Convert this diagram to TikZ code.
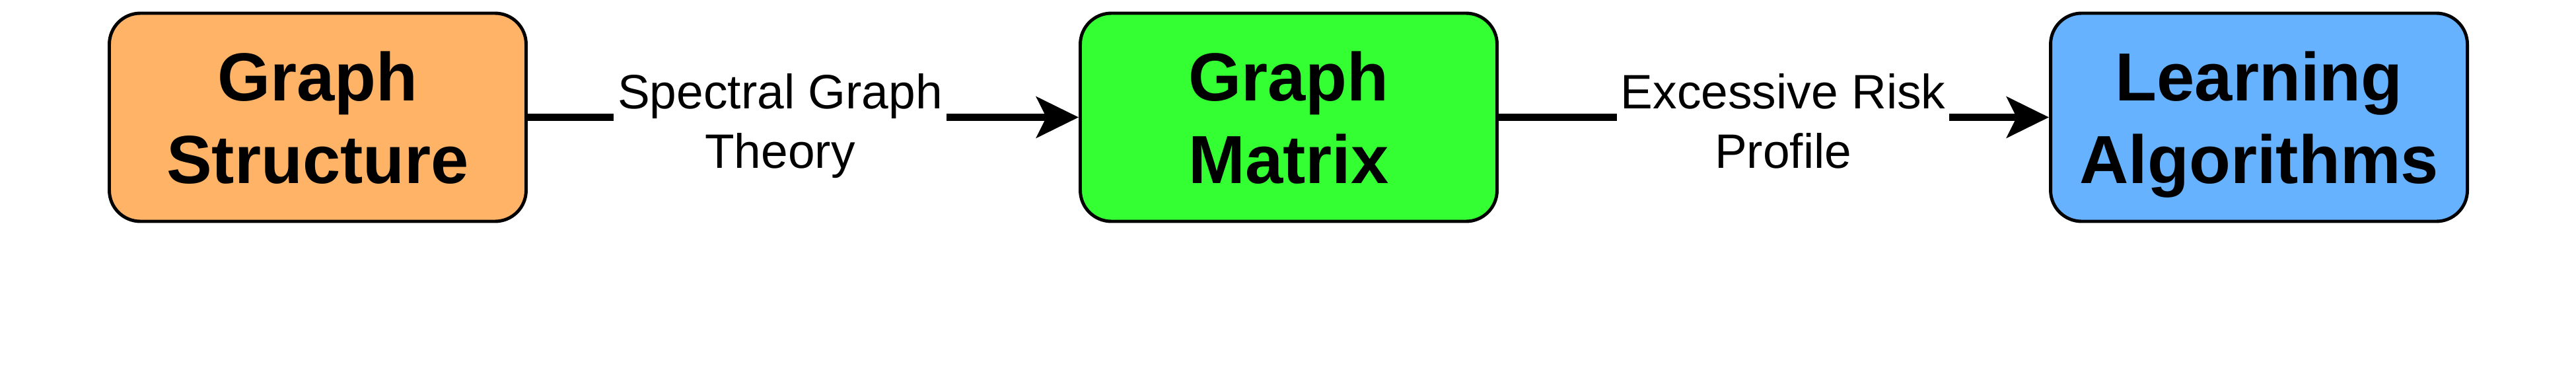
\documentclass[tikz,border=0pt]{standalone}
\usepackage{fontspec}
\setmainfont{Liberation Sans}
\usetikzlibrary{arrows.meta}
\definecolor{structfill}{HTML}{FFB366}
\definecolor{matrixfill}{HTML}{33FF33}
\definecolor{learnfill}{HTML}{66B2FF}
\begin{document}
\begin{tikzpicture}[
    block/.style={rectangle, rounded corners=0.47cm, draw=black, line width=1.4pt,
        minimum width=6.31cm, minimum height=3.15cm, align=center, text depth=0pt,
        font=\fontsize{29.3}{35.5}\selectfont\bfseries},
    flow/.style={line width=3.1pt, -{Stealth[length=0.64cm, width=0.62cm, inset=0.15cm]}},
    flowlabel/.style={fill=white, inner sep=0.06cm, align=center, text depth=0pt,
        yshift=-0.055cm, font=\fontsize{20.8}{25.4}\selectfont}
]
    \useasboundingbox (0,0) rectangle (39,5.68);

    % Blocks
    \foreach \name/\x/\col/\txt in {Structure/4.81/structfill/{Graph\\Structure},
                                   Matrix/19.51/matrixfill/{Graph\\Matrix},
                                   Learning/34.20/learnfill/{Learning\\Algorithms}}
    {
    	\node[block, fill=\col] (\name) at (\x,3.905) {\txt};
    }

    % Connect blocks
    \draw[flow] (Structure) -- (Matrix)
    	node[flowlabel, pos=0.458] {Spectral Graph\\Theory};
    \draw[flow] (Matrix) -- (Learning)
    	node[flowlabel, pos=0.517] {Excessive Risk\\Profile};
\end{tikzpicture}
\end{document}
